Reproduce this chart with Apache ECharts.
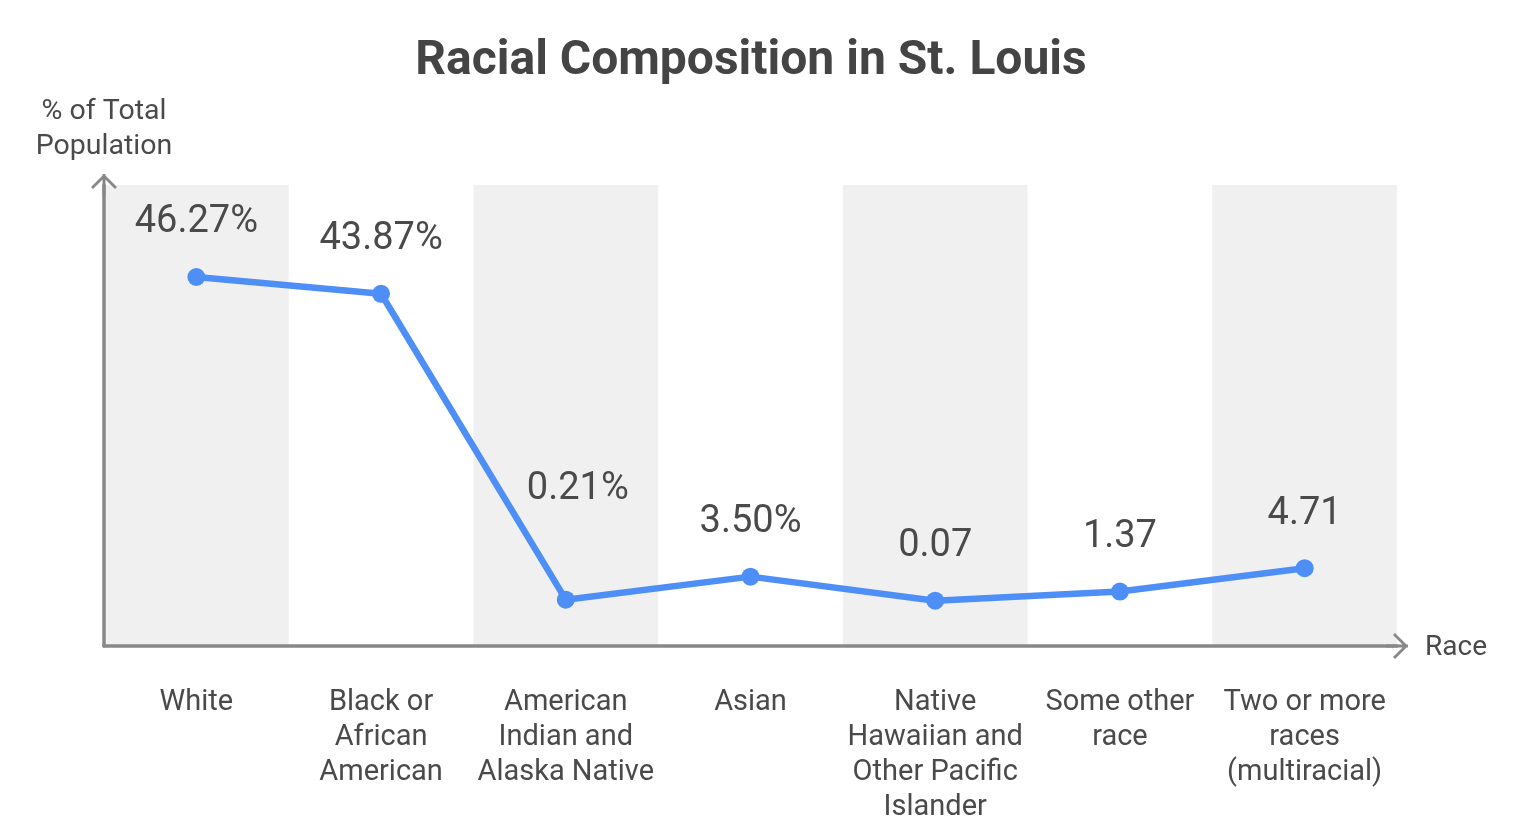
<!DOCTYPE html>
<html>
<head>
<meta charset="utf-8">
<script src="https://cdn.jsdelivr.net/npm/echarts@6/dist/echarts.min.js"></script>
<style>
html,body{margin:0;padding:0;background:#fff;}
#chart{width:1536px;height:839px;}
</style>
</head>
<body>
<div id="chart"></div>
<script>
const categories = ['White', 'Black or African American', 'American Indian and Alaska Native', 'Asian', 'Native Hawaiian and Other Pacific Islander', 'Some other race', 'Two or more races (multiracial)'];
const tickLabels = ['White', 'Black or\nAfrican\nAmerican', 'American\nIndian and\nAlaska Native', 'Asian', 'Native\nHawaiian and\nOther Pacific\nIslander', 'Some other\nrace', 'Two or more\nraces\n(multiracial)'];
const values = [46.27, 43.87, 0.21, 3.50, 0.07, 1.37, 4.71];
const valueLabels = ['46.27%', '43.87%', '0.21%', '3.50%', '0.07', '1.37', '4.71'];

const FONT = 'Roboto';
const TEXT = '#4a4a4a';
const AXIS = '#888888';
const BLUE = '#4e8ef7';
const arrowPath = 'path://M13,0 L26,13 L24,15 L13,4 L2,15 L0,13 Z M11.5,0 L14.5,0 L14.5,22 L11.5,22 Z';

const chart = echarts.init(document.getElementById('chart'));
chart.setOption({
  animation: false,
  backgroundColor: '#ffffff',
  title: {
    text: 'Racial Composition in St. Louis',
    left: 746,
    textAlign: 'center',
    top: 30,
    textStyle: { fontFamily: FONT, fontSize: 48, fontWeight: 'bold', color: '#444444', lineHeight: 54 }
  },
  grid: { left: 104, right: 139, top: 185, bottom: 193, containLabel: false },
  xAxis: {
    type: 'category',
    data: categories,
    boundaryGap: true,
    name: 'Race',
    nameLocation: 'end',
    nameGap: 28,
    nameTextStyle: { fontFamily: FONT, fontSize: 28, color: TEXT, verticalAlign: 'top', lineHeight: 4 },
    axisLine: { show: true, onZero: false, symbol: ['none', arrowPath], symbolSize: [26, 22], lineStyle: { color: AXIS, width: 3.5 } },
    axisTick: { show: false },
    axisLabel: {
      interval: 0,
      margin: 39,
      fontFamily: FONT, fontSize: 29, lineHeight: 35, color: TEXT, align: 'center', verticalAlign: 'top',
      formatter: function (v, i) { return tickLabels[i]; }
    },
    splitLine: { show: false },
    splitArea: { show: true, interval: 0, areaStyle: { color: ['#f0f0f0', 'rgba(255,255,255,0)'] } }
  },
  yAxis: {
    type: 'value',
    min: -6.4,
    max: 59.4,
    name: '% of Total\nPopulation',
    nameLocation: 'end',
    nameGap: 20.5,
    nameTextStyle: { fontFamily: FONT, fontSize: 28.5, color: TEXT, lineHeight: 35, align: 'center', verticalAlign: 'bottom' },
    axisLine: { show: true, onZero: false, symbol: ['none', arrowPath], symbolSize: [26, 22], lineStyle: { color: AXIS, width: 3.5 } },
    axisTick: { show: false },
    axisLabel: { show: false },
    splitLine: { show: false }
  },
  series: [{
    type: 'line',
    data: values.map(function (v, i) {
      const item = { value: v };
      if (i === 2) item.label = { distance: 82, offset: [12, 0] };
      return item;
    }),
    lineStyle: { color: BLUE, width: 6.5 },
    itemStyle: { color: BLUE },
    symbol: 'circle',
    symbolSize: 18,
    label: {
      show: true,
      position: 'top',
      distance: 26,
      fontFamily: FONT,
      fontSize: 38,
      color: TEXT,
      formatter: function (p) { return valueLabels[p.dataIndex]; }
    }
  }]
});
</script>
</body>
</html>
